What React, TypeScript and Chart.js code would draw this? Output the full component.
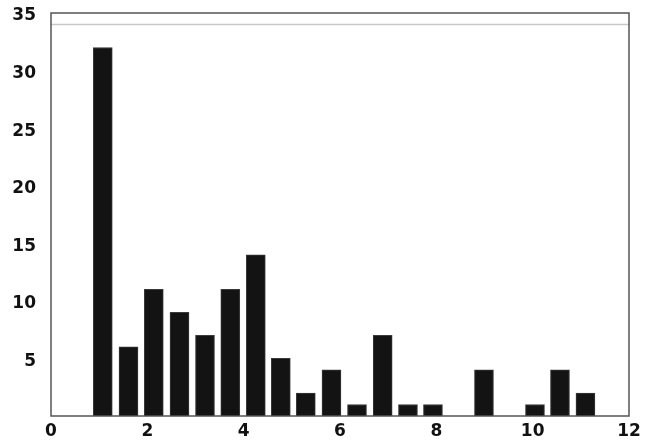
import React, { useEffect, useRef } from "react";
import { Chart, registerables } from "chart.js";

Chart.register(...registerables);

// Bar centres (x) and counts (y)
const barCenters = [1.075, 1.609, 2.134, 2.668, 3.197, 3.722, 4.252, 4.771, 5.29, 5.823, 6.353, 6.886, 7.411, 7.93, 8.989, 10.048, 10.567, 11.096];
const barCounts = [32, 6, 11, 9, 7, 11, 14, 5, 2, 4, 1, 7, 1, 1, 4, 1, 4, 2];

const xTicks = [0, 2, 4, 6, 8, 10, 12];
const yTicks = [5, 10, 15, 20, 25, 30, 35];

const refLineX = [0, 12];
const refLineY = 34;

const FONT = { family: "'DejaVu Sans', 'Liberation Sans', Arial, sans-serif", size: 17, weight: "bold" as const };

const framePlugin = {
  id: "frame",
  afterDatasetsDraw(chart: any) {
    const { ctx, chartArea } = chart;
    ctx.save();
    ctx.strokeStyle = "#555555";
    ctx.lineWidth = 1.5;
    ctx.strokeRect(chartArea.left, chartArea.top, chartArea.right - chartArea.left, chartArea.bottom - chartArea.top);
    ctx.restore();
  },
};

export default function App() {
  const ref = useRef<HTMLCanvasElement | null>(null);

  useEffect(() => {
    if (!ref.current) return;
    const chart = new Chart(ref.current, {
      type: "bar",
      data: {
        datasets: [
          {
            type: "line",
            data: refLineX.map((x) => ({ x, y: refLineY })),
            borderColor: "#c8c8c8",
            borderWidth: 1.5,
            pointRadius: 0,
            order: 2,
          } as any,
          {
            type: "bar",
            data: barCenters.map((x, i) => ({ x, y: barCounts[i] })),
            backgroundColor: "#131313",
            borderColor: "#3a3a3a",
            borderWidth: 1,
            barThickness: 19,
            order: 1,
          } as any,
        ],
      },
      options: {
        responsive: false,
        animation: false,
        layout: { padding: { left: 0, right: 33, top: 13, bottom: 0 } },
        plugins: { legend: { display: false }, tooltip: { enabled: false } },
        scales: {
          x: {
            type: "linear",
            min: 0,
            max: 12,
            offset: false,
            grid: { display: false, drawTicks: false, offset: false },
            border: { display: false },
            afterBuildTicks: (s: any) => {
              s.ticks = xTicks.map((v) => ({ value: v }));
            },
            afterFit: (s: any) => {
              s.height = 30;
              s.paddingLeft = 0;
              s.paddingRight = 0;
            },
            ticks: {
              color: "#111111",
              font: FONT,
              padding: 5,
              maxRotation: 0,
              autoSkip: false,
              callback: (v: any) => String(v),
            },
          },
          y: {
            type: "linear",
            min: 0,
            max: 35,
            grid: { display: false, drawTicks: false },
            border: { display: false },
            afterBuildTicks: (s: any) => {
              s.ticks = yTicks.map((v) => ({ value: v }));
            },
            afterFit: (s: any) => {
              s.width = 51;
              s.paddingTop = 0;
              s.paddingBottom = 0;
            },
            ticks: {
              color: "#111111",
              font: FONT,
              padding: 15,
              labelOffset: 3,
              autoSkip: false,
              callback: (v: any) => String(v),
            },
          },
        },
      },
      plugins: [framePlugin],
    } as any);
    return () => chart.destroy();
  }, []);

  return (
    <div style={{ position: "absolute", left: 0, top: 0, width: 662, height: 446, background: "#ffffff" }}>
      <canvas ref={ref} width={662} height={446} style={{ width: 662, height: 446, display: "block" }} />
    </div>
  );
}
